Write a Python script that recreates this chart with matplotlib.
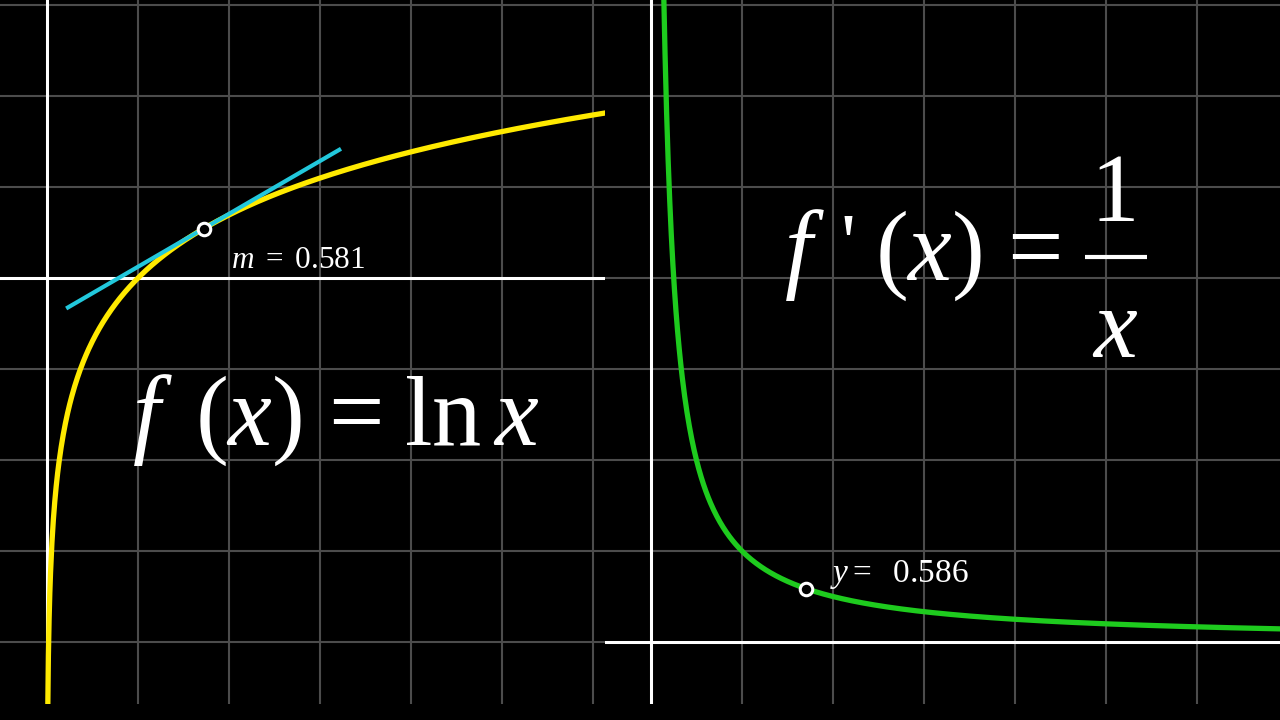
import numpy as np
import matplotlib
matplotlib.use("Agg")
import matplotlib.pyplot as plt

# Times-like math text
plt.rcParams['mathtext.fontset'] = 'custom'
plt.rcParams['mathtext.rm'] = 'Liberation Serif'
plt.rcParams['mathtext.it'] = 'Liberation Serif:italic'
plt.rcParams['mathtext.bf'] = 'Liberation Serif:bold'

# values shown in the picture
tangent_x = 1.721      # point on ln x where the tangent is drawn
tangent_slope = 0.581  # m = 0.581
deriv_x = 1.706        # point on 1/x
deriv_y = 0.586        # y = 0.586
tangent_half_len = 1.51

left_xlim = (-0.516, 6.132)
left_ylim = (-4.68, 3.055)
right_xlim = (-0.505, 6.912)
right_ylim = (-0.681, 7.055)

GRID = '#4c4c4c'
YELLOW = '#ffea00'
CYAN = '#22c8dc'
GREEN = '#1ecb1e'

fig = plt.figure(figsize=(12.8, 7.2), dpi=100, facecolor='black')
ax_l = fig.add_axes([0, 16/720, 605/1280, 704/720])
ax_r = fig.add_axes([605/1280, 16/720, 675/1280, 704/720])

def setup(ax, xlim, ylim):
    ax.set_facecolor('black')
    ax.set_xlim(*xlim)
    ax.set_ylim(*ylim)
    for s in ax.spines.values():
        s.set_visible(False)
    ax.set_xticks([])
    ax.set_yticks([])
    for gx in range(int(np.ceil(xlim[0])), int(np.floor(xlim[1])) + 1):
        if gx != 0:
            ax.axvline(gx, color=GRID, lw=1.5, zorder=1)
    for gy in range(int(np.ceil(ylim[0])), int(np.floor(ylim[1])) + 1):
        if gy != 0:
            ax.axhline(gy, color=GRID, lw=1.5, zorder=1)
    ax.axhline(0, color='white', lw=2.2, zorder=2)
    ax.axvline(0, color='white', lw=2.2, zorder=2)

setup(ax_l, left_xlim, left_ylim)
setup(ax_r, right_xlim, right_ylim)

txt = dict(color='white', va='baseline', zorder=6)

# left: f(x) = ln x with its tangent
xs = np.linspace(0.008, left_xlim[1] + 0.1, 800)
ax_l.plot(xs, np.log(xs), color=YELLOW, lw=3.8, zorder=3, solid_capstyle='butt')
y0 = np.log(tangent_x)
tx = np.array([tangent_x - tangent_half_len, tangent_x + tangent_half_len])
ax_l.plot(tx, y0 + tangent_slope * (tx - tangent_x), color=CYAN, lw=3, zorder=4,
          solid_capstyle='butt')
ax_l.plot([tangent_x], [y0], 'o', ms=9, mfc='black', mec='white', mew=2.2, zorder=5)
ax_l.text(2.02, 0.11, r'$m\hspace{0.35}=\hspace{0.3}%.3f$' % tangent_slope,
          fontsize=22.5, ha='left', **txt)
ax_l.text(0.93, -1.835, r'$f\hspace{0.5}(x)\hspace{0.14}=\hspace{0.08}\ln\hspace{0.02}x$',
          fontsize=71, ha='left', **txt)

# right: f'(x) = 1/x
xr = np.linspace(0.12, right_xlim[1] + 0.1, 800)
ax_r.plot(xr, 1 / xr, color=GREEN, lw=3.8, zorder=3)
ax_r.plot([deriv_x], [deriv_y], 'o', ms=9, mfc='black', mec='white', mew=2.2, zorder=5)
ax_r.text(1.967, 0.659, r'$y=\hspace{0.7}%.3f$' % deriv_y,
          fontsize=24, ha='left', **txt)
ax_r.text(1.46, 3.978, r'$f$', fontsize=71, ha='left', **txt)
ax_r.text(2.08, 4.09, "'", fontsize=60, family='Liberation Serif', ha='left', **txt)
ax_r.text(2.46, 3.978, r'$(x)\hspace{0.12}=$', fontsize=71, ha='left', **txt)
ax_r.text(5.099, 4.626, '1', fontsize=70, family='Liberation Serif', ha='center', **txt)
ax_r.plot([4.769, 5.451], [4.231, 4.231], color='white', lw=3, zorder=6,
          solid_capstyle='butt')
ax_r.text(5.099, 3.132, r'$x$', fontsize=71, ha='center', **txt)

fig.savefig('out.png', dpi=100, facecolor='black')
